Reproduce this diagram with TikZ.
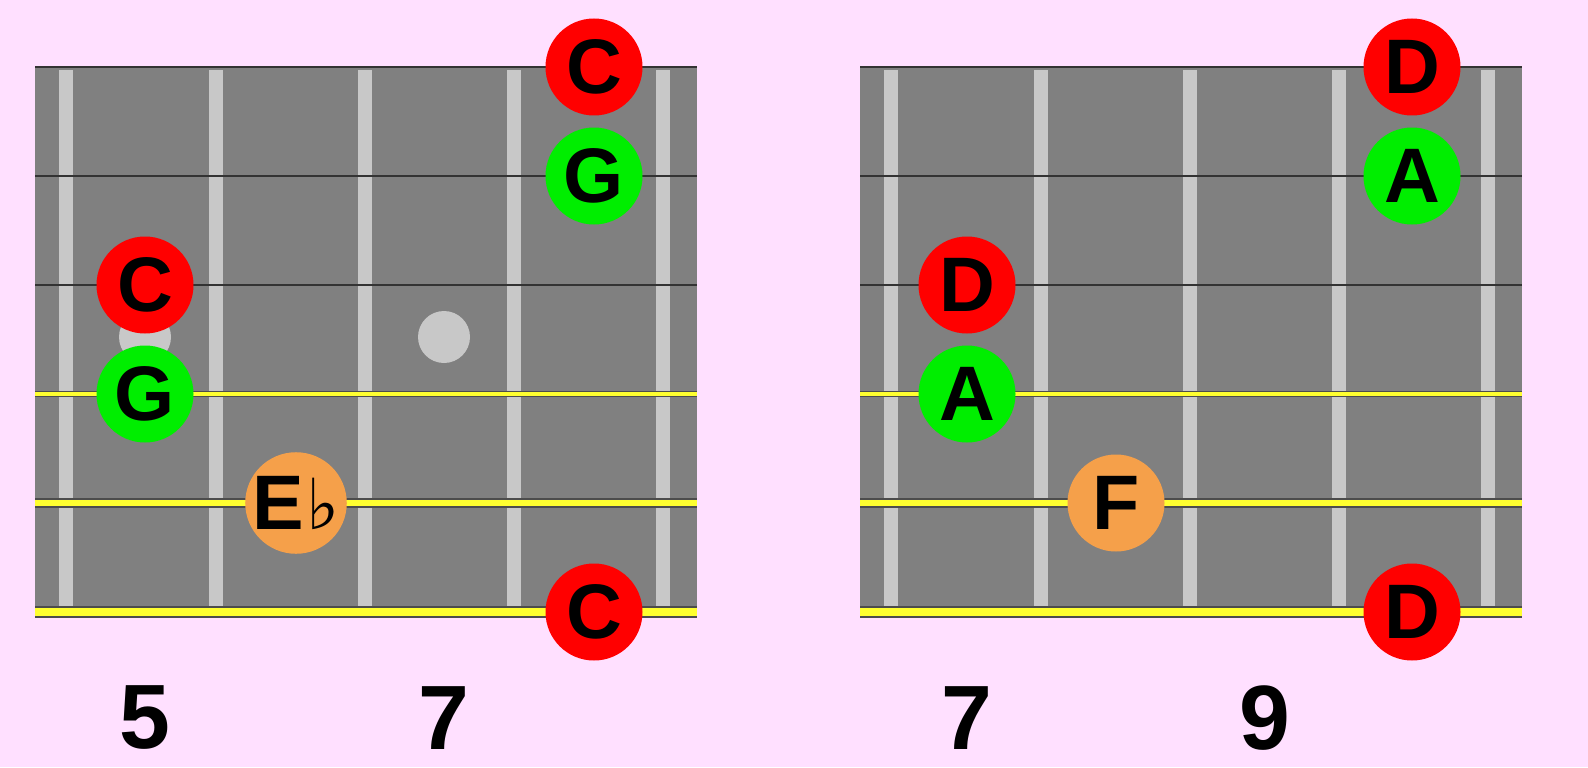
\documentclass[tikz,border=0pt]{standalone}
\usepackage{fontspec}
\setmainfont{Liberation Sans}
\newfontfamily\symfont{DejaVu Sans}
\definecolor{bgpink}{HTML}{FFE0FF}
\definecolor{board}{HTML}{808080}
\definecolor{fretc}{HTML}{C8C8C8}
\definecolor{rootc}{HTML}{FF0000}
\definecolor{fifthc}{HTML}{00EE00}
\definecolor{thirdc}{HTML}{F5A04A}
\definecolor{strc}{HTML}{FFFF30}
\newlength\unitpx
\setlength\unitpx{0.02cm}
\tikzset{
  note/.style={circle,minimum size=97\unitpx,inner sep=0pt,font=\bfseries\fontsize{44}{44}\selectfont},
  rootn/.style={note,fill=rootc},
  fifthn/.style={note,fill=fifthc},
  thirdn/.style={note,fill=thirdc},
  fretnum/.style={font=\bfseries\fontsize{52}{52}\selectfont},
  dotm/.style={circle,fill=fretc,minimum size=52\unitpx,inner sep=0pt}
}
\begin{document}
\begin{tikzpicture}[x=0.02cm,y=-0.02cm]
\fill[bgpink] (0,0) rectangle (1588,767);
\useasboundingbox (0,0) rectangle (1588,767);
\foreach \ox/\da/\db in {0/145/444, 825/967/1265}{
  \begin{scope}[xshift=\ox*0.02cm]
  \fill[board] (35,67) rectangle (697,617);
  \foreach \fx in {66,216,365,514,663}
    \fill[fretc] (\fx-7,70) rectangle (\fx+7,608);
  \fill[fretc] (\da,337) circle (26);
  \fill[fretc] (\db,337) circle (26);
  \foreach \sy in {67,176,285}
    \draw[black!80,line width=1pt] (35,\sy) -- (697,\sy);
  \draw[black!70,line width=3.5pt] (35,394) -- (697,394);
  \draw[strc,line width=1.8pt] (35,394) -- (697,394);
  \draw[black!70,line width=5.5pt] (35,503) -- (697,503);
  \draw[strc,line width=3.8pt] (35,503) -- (697,503);
  \draw[black!70,line width=6.5pt] (35,612) -- (697,612);
  \draw[strc,line width=4.8pt] (35,612) -- (697,612);
  \end{scope}
}
\node[rootn] (c1) at (594,67) {C};
\node[fifthn] (g1) at (594,176) {G};
\node[rootn] (c2) at (145,285) {C};
\node[fifthn] (g2) at (145,394) {G};
\node[thirdn] (eb) at (296,503) {E\hspace{1pt}{\symfont\fontsize{40}{40}\selectfont ♭}};
\node[rootn] (c3) at (594,612) {C};
\node[rootn] (d1) at (1412,67) {D};
\node[fifthn] (a1) at (1412,176) {A};
\node[rootn] (d2) at (967,285) {D};
\node[fifthn] (a2) at (967,394) {A};
\node[thirdn] (f1) at (1116,503) {F};
\node[rootn] (d3) at (1412,612) {D};
\node[fretnum] (n5) at (145,718) {5};
\node[fretnum] (n7a) at (444,718) {7};
\node[fretnum] (n7b) at (967,718) {7};
\node[fretnum] (n9) at (1265,718) {9};
\end{tikzpicture}
\end{document}
